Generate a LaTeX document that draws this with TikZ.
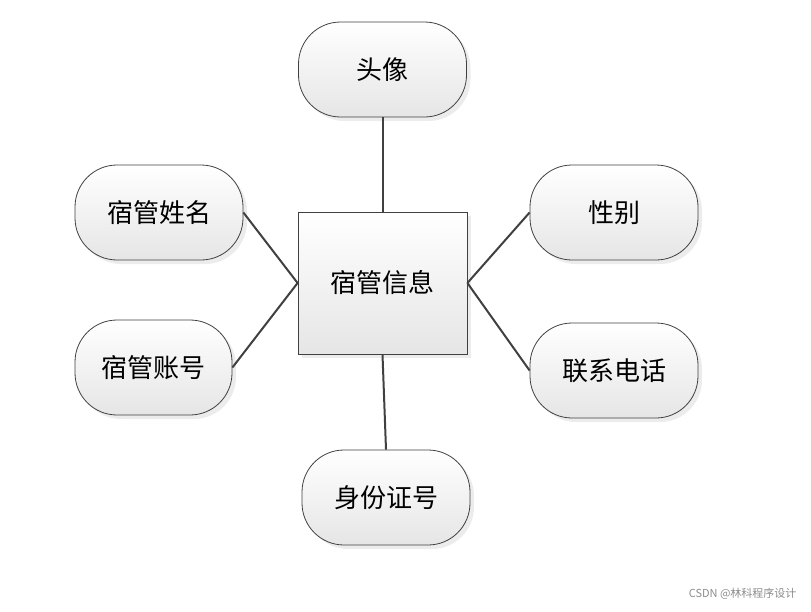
\documentclass[tikz,border=0pt]{standalone}
\usepackage{fontspec}
\setmainfont{Noto Sans CJK SC}
\usetikzlibrary{shadows}
\begin{document}
\begin{tikzpicture}[x=1pt,y=-1pt,
  attr/.style={draw=black!75,line width=0.8pt,rounded corners=42pt,minimum width=168pt,minimum height=95pt,
    top color=white,bottom color=black!10,drop shadow={shadow xshift=4pt,shadow yshift=-4pt,fill=black!15},
    font=\fontsize{26}{30}\selectfont},
  ent/.style={draw=black!75,line width=0.8pt,minimum width=169pt,minimum height=142pt,
    top color=white,bottom color=black!10,drop shadow={shadow xshift=4pt,shadow yshift=-4pt,fill=black!15},
    font=\fontsize{26}{30}\selectfont},
  link/.style={line width=2pt,draw=black!75}]
\useasboundingbox (0,0) rectangle (811,611);
\node[ent] (c) at (382.5,283) {宿管信息};
\node[attr] (tx) at (382.5,69.5) {头像};
\node[attr] (xm) at (159,212.5) {宿管姓名};
\node[attr] (xb) at (614,212.5) {性别};
\node[attr,minimum width=157pt] (zh) at (153.5,367.5) {宿管账号};
\node[attr] (dh) at (614,370.5) {联系电话};
\node[attr] (sf) at (386,497.5) {身份证号};
\draw[link] (c.west) -- (xm.east);
\draw[link] (c.west) -- (zh.east);
\draw[link] (c.east) -- (xb.west);
\draw[link] (c.east) -- (dh.west);
\draw[link] (c.north) -- (tx.south);
\draw[link] (c.south) -- (sf.north);
\node[text=black!45,font=\fontsize{11}{13}\selectfont,anchor=east] (wm) at (800,594) {CSDN @林科程序设计};
\end{tikzpicture}
\end{document}
